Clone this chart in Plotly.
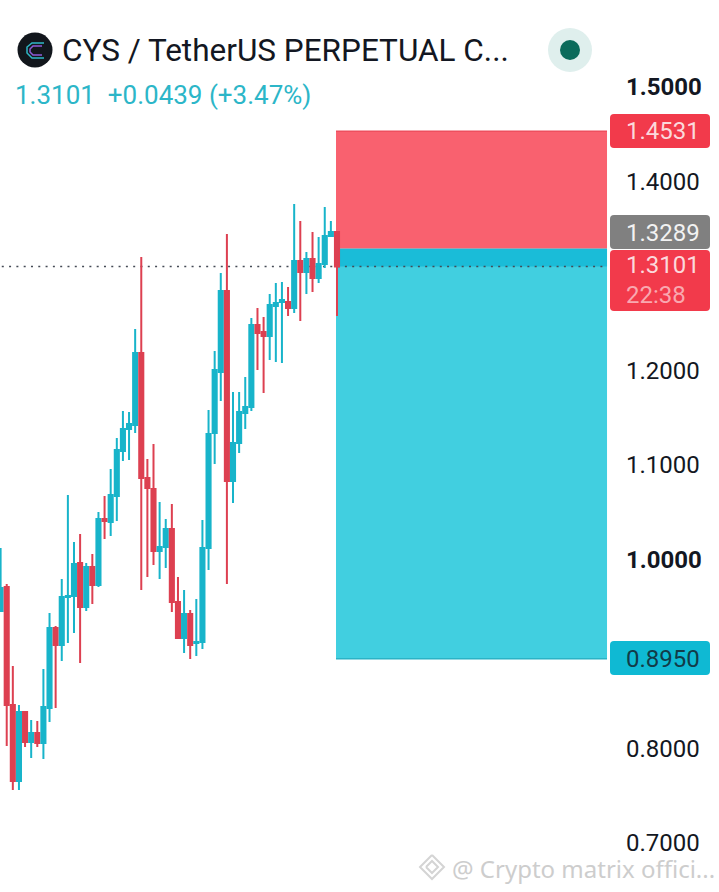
import plotly.graph_objects as go

W=719
H=892
RIGHT=94

# candles, oldest first
opens=[.9455,.9709,.8460,.7656,.8386,.8069,.8164,.8058,.8429,.9275,.9095,.9603,.9614,.9963,.9497,.9921,.9730,1.0429,1.0397,1.0672,
1.1148,1.1381,1.1423,1.2185,1.0862,1.0746,1.0090,1.0132,1.0323,.9550,.9169,.9423,.9116,.9127,1.0122,1.1339,1.1984,1.2841,1.0831,1.1233,
1.1550,1.1614,1.2481,1.2407,1.2365,1.2683,1.2725,1.2725,1.2661,1.3159,1.3042,1.3180,1.2979,1.3127,1.3423,1.3466]
highs=[1.0122,.9741,.8873,.8460,.8397,.8302,.8291,.8841,.9434,.9296,.9794,1.0683,1.0185,1.0270,.9963,1.0058,1.0503,1.0672,1.0958,1.1286,
1.1571,1.1561,1.2439,1.3201,1.1063,1.1222,1.0608,1.0429,1.0587,.9815,.9677,.9466,.9582,1.0418,1.1582,1.2206,1.3032,1.3444,1.1772,1.1772,
1.1931,1.2556,1.2661,1.2566,1.2810,1.2926,1.2937,1.2884,1.3762,1.3582,1.3254,1.3466,1.3413,1.3730,1.3582,1.3466]
lows=[.9455,.8026,.7561,.7561,.8016,.7899,.8016,.7889,.8280,.8429,.8926,.9116,.9222,.8905,.9455,.9529,.9709,1.0217,1.0249,1.0407,
1.1042,1.1053,1.1339,.9677,.9815,.9942,.9794,.9910,.9444,.9159,.9011,.8947,.8979,.9053,.9889,1.1011,1.1677,.9741,1.0598,1.1127,
1.1381,1.1571,1.2005,1.1762,1.2111,1.2090,1.2079,1.2577,1.2608,1.2524,1.2810,1.2831,1.2926,1.3085,1.3413,1.2577]
closes=[.9698,.8460,.7656,.8386,.8069,.8164,.8058,.8439,.9275,.9095,.9603,.9614,.9952,.9497,.9921,.9730,1.0429,1.0407,1.0683,1.1159,
1.1381,1.1434,1.2185,1.0862,1.0757,1.0090,1.0132,1.0323,.9550,.9169,.9423,.9095,.9127,1.0122,1.1328,1.2005,1.2841,1.0831,1.1233,1.1561,
1.1614,1.2481,1.2397,1.2365,1.2693,1.2714,1.2746,1.2661,1.3159,1.3042,1.3180,1.2979,1.3127,1.3423,1.3466,1.3101]

tick_vals=[1.5,1.4,1.2,1.1,1.0,.8,.7]
tick_text=['<b>1.5000</b>','1.4000','1.2000','1.1000','<b>1.0000</b>','0.8000','0.7000']

stop_price=1.4531
entry_price=1.3289
last_price=1.3101
target_price=.8950
tool_start=54.84
tool_end=99.15

TEAL='#18b4ca'
RED='#dd4051'

#paper coords only span the plot area, so divide by its width
def px(x):
    return x/(W-RIGHT)
def py(y):
    return 1-y/H

def pill(x0,y0,x1,y1,color,r=4):
    p=('M %f %f L %f %f Q %f %f %f %f L %f %f Q %f %f %f %f L %f %f Q %f %f %f %f L %f %f Q %f %f %f %f Z'%(
        px(x0+r),py(y0),px(x1-r),py(y0),px(x1),py(y0),px(x1),py(y0+r),
        px(x1),py(y1-r),px(x1),py(y1),px(x1-r),py(y1),
        px(x0+r),py(y1),px(x0),py(y1),px(x0),py(y1-r),
        px(x0),py(y0+r),px(x0),py(y0),px(x0+r),py(y0)))
    return dict(type='path',path=p,xref='paper',yref='paper',fillcolor=color,line_width=0,layer='above')

def circle(cx,cy,r,color):
    return dict(type='circle',xref='paper',yref='paper',x0=px(cx-r),x1=px(cx+r),y0=py(cy+r),y1=py(cy-r),
                fillcolor=color,line_width=0,layer='above')

def stroke(points,color,width):
    p='M '+' L '.join('%f %f'%(px(a),py(b)) for a,b in points)
    return dict(type='path',path=p,xref='paper',yref='paper',line=dict(color=color,width=width),layer='above')

def label(x,y,text,size,color,font='Roboto'):
    return dict(xref='paper',yref='paper',x=px(x),y=py(y),text=text,showarrow=False,xanchor='left',yanchor='middle',
                font=dict(family=font,size=size,color=color),align='left',borderpad=0)

fig=go.Figure()
fig.add_trace(go.Candlestick(x=list(range(len(opens))),open=opens,high=highs,low=lows,close=closes,
    increasing=dict(line=dict(color=TEAL,width=2),fillcolor=TEAL),
    decreasing=dict(line=dict(color=RED,width=2),fillcolor=RED),
    hoverinfo='skip',showlegend=False))

shapes=[
    dict(type='rect',x0=tool_start,x1=tool_end,y0=entry_price,y1=stop_price,fillcolor='#f9616f',line_width=0,layer='below'),
    dict(type='rect',x0=tool_start,x1=tool_end,y0=target_price,y1=entry_price,fillcolor='#41cfe0',line_width=0,layer='below'),
    dict(type='rect',x0=tool_start,x1=tool_end,y0=last_price,y1=entry_price,fillcolor='#1abcd8',line_width=0,layer='below'),
    dict(type='line',x0=tool_start,x1=tool_end,y0=stop_price,y1=stop_price,line=dict(color='#ee4f5e',width=1.5),layer='below'),
    dict(type='line',x0=tool_start,x1=tool_end,y0=target_price,y1=target_price,line=dict(color='#2bb3c6',width=1.5),layer='below'),
    dict(type='line',x0=-1,x1=tool_end,y0=last_price,y1=last_price,line=dict(color='#444a55',width=1.6,dash='2px,5.3px'),layer='below'),
    pill(610,114,710,148,'#f23a4b'),
    pill(610,215,710,249,'#808080'),
    pill(610,250,710,311,'#f23a4b'),
    pill(610,641,710,675,'#0fb9d3'),
    circle(35,50,17.5,'#12161c'),
    stroke([(44,43),(32,43),(27,47),(27,53),(32,58),(44,58)],'#2fb8c6',1.5),
    stroke([(42,46),(33,46),(30,49),(30,52),(33,55),(42,55)],'#8e5bd6',1.5),
    circle(570,50,22,'#dfefed'),
    circle(570,50,10,'#0b6b5b'),
    stroke([(432,855),(444,867),(432,879),(420,867),(432,855)],'#d4d4d4',2),
    stroke([(426,867),(432,861),(438,867),(432,873),(426,867)],'#d4d4d4',2),
]

annotations=[
    label(61,50,'CYS / TetherUS PERPETUAL C...',31.5,'#131722'),
    label(14,95,'1.3101&nbsp;&nbsp;+0.0439 (+3.47%)',26,'#2cb6c8'),
    label(625,131,'1.4531',24,'#fbd9dc'),
    label(625,233,'1.3289',24,'#f2f2f2'),
    label(625,265,'1.3101',24,'#fbd9dc'),
    label(625,295,'22:38',24,'#f9a8b0'),
    label(625,659,'0.8950',24,'#123b48'),
    label(451,868,'@ Crypto matrix offici...',24,'#cdcdcd','Noto Sans'),
]

fig.update_layout(width=W,height=H,margin=dict(l=0,r=RIGHT,t=0,b=0,pad=0),
    paper_bgcolor='white',plot_bgcolor='white',showlegend=False,
    boxgap=.33,boxgroupgap=0,
    shapes=shapes,annotations=annotations)
fig.update_xaxes(visible=False,range=[-.098,102.09],rangeslider_visible=False)
fig.update_yaxes(side='right',range=[.6481,1.5921],tickmode='array',tickvals=tick_vals,ticktext=tick_text,
    tickfont=dict(family='Roboto',size=24,color='#131722'),showgrid=False,zeroline=False,showline=False,ticks='')
fig.write_html("out.html",config={'displayModeBar':False},post_script="document.body.style.margin='0';")
